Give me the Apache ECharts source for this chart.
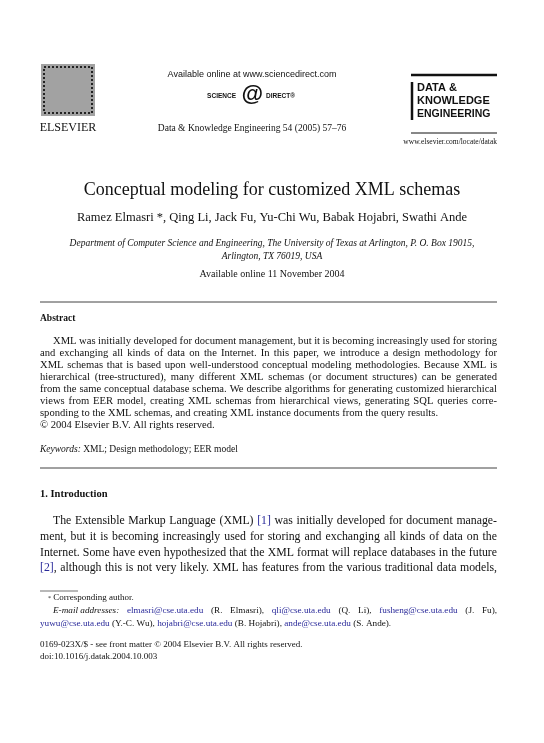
<!DOCTYPE html>
<html><head><meta charset="utf-8">
<script src="https://cdn.jsdelivr.net/npm/echarts@6/dist/echarts.min.js"></script>
<style>html,body{margin:0;padding:0;background:#fff}#c{width:544px;height:743px}</style>
</head><body><div id="c"></div>
<script>
// page text, line by line
const title = 'Conceptual modeling for customized XML schemas'
const authors = 'Ramez Elmasri *, Qing Li, Jack Fu, Yu-Chi Wu, Babak Hojabri, Swathi Ande'
const affiliation = [
  'Department of Computer Science and Engineering, The University of Texas at Arlington, P. O. Box 19015,',
  'Arlington, TX 76019, USA'
]
const abstractLines = [
  'XML was initially developed for document management, but it is becoming increasingly used for storing',
  'and exchanging all kinds of data on the Internet. In this paper, we introduce a design methodology for',
  'XML schemas that is based upon well-understood conceptual modeling methodologies. Because XML is',
  'hierarchical (tree-structured), many different XML schemas (or document structures) can be generated',
  'from the same conceptual database schema. We describe algorithms for generating customized hierarchical',
  'views from EER model, creating XML schemas from hierarchical views, generating SQL queries corre-',
  'sponding to the XML schemas, and creating XML instance documents from the query results.',
  '© 2004 Elsevier B.V. All rights reserved.'
]
const introLines = [
  'The Extensible Markup Language (XML) {b|[1]} was initially developed for document manage-',
  'ment, but it is becoming increasingly used for storing and exchanging all kinds of data on the',
  'Internet. Some have even hypothesized that the XML format will replace databases in the future',
  '{b|[2]}, although this is not very likely. XML has features from the various traditional data models,'
]
const footLines = [
  '{i|E-mail addresses:} {b|elmasri@cse.uta.edu} (R. Elmasri), {b|qli@cse.uta.edu} (Q. Li), {b|fusheng@cse.uta.edu} (J. Fu),',
  '{b|yuwu@cse.uta.edu} (Y.-C. Wu), {b|hojabri@cse.uta.edu} (B. Hojabri), {b|ande@cse.uta.edu} (S. Ande).'
]
const bottomLines = [
  '0169-023X/$ - see front matter © 2004 Elsevier B.V. All rights reserved.',
  'doi:10.1016/j.datak.2004.10.003'
]

const serif = '"Liberation Serif", "DejaVu Serif", serif'
const sans = '"Liberation Sans", Arial, sans-serif'
const blue = '#2a2a9a'
function richFor(size) {
  return {
    b: { fill: blue, fontSize: size, fontFamily: serif },
    i: { fontStyle: 'italic', fontSize: size, fontFamily: serif, fill: '#111' },
    s: { fontSize: 6, fontFamily: serif, fill: '#111' }
  }
}

function txt(x, y, text, size, extra) {
  return { type: 'text', x, y, style: Object.assign({ text, fontSize: size, fontFamily: serif, fill: '#111', rich: richFor(size), textVerticalAlign: 'middle' }, extra || {}) }
}
function line(x1, y1, x2, y2, w) {
  return { type: 'line', shape: { x1, y1, x2, y2 }, style: { stroke: '#111', lineWidth: w || 1 } }
}

const ctx = document.createElement('canvas').getContext('2d')
function measure(s, size, italic) {
  ctx.font = (italic ? 'italic ' : '') + size + 'px ' + serif
  return ctx.measureText(s.replace(/\{\w\|([^}]*)\}/g, '$1')).width
}
// justified line: tokens placed between x0 and x1
function justify(els, t, x0, x1, y, size, last) {
  const words = t.match(/\{\w\|[^}]*\}\S*|\S+/g)
  const ws = words.map(w => measure(w, size, /^\{i\|/.test(w)))
  const total = ws.reduce((a, b) => a + b, 0)
  const gap = last ? measure(' ', size) : (x1 - x0 - total) / (words.length - 1)
  let x = x0
  words.forEach((w, k) => { els.push(txt(x, y, w, size)); x += ws[k] + gap })
}

const els = []
// header: tree logo block
els.push({ type: 'rect', shape: { x: 41, y: 64, width: 54, height: 52 }, style: { fill: '#555', opacity: 0.55 } })
els.push({ type: 'rect', shape: { x: 44, y: 67, width: 48, height: 46 }, style: { fill: 'none', stroke: '#222', lineWidth: 2, lineDash: [2, 2] } })
els.push(txt(68, 128, 'ELSEVIER', 12, { textAlign: 'center' }))
els.push(txt(252, 75, 'Available online at www.sciencedirect.com', 9, { textAlign: 'center', fontFamily: sans }))
els.push(txt(236, 96, 'SCIENCE', 6.5, { textAlign: 'right', fontFamily: sans, fontWeight: 'bold' }))
els.push(txt(252, 95, '@', 22, { textAlign: 'center', fontFamily: sans, fontWeight: 'bold', fontStyle: 'italic' }))
els.push(txt(266, 96, 'DIRECT®', 6.5, { fontFamily: sans, fontWeight: 'bold' }))
els.push(txt(252, 128, 'Data & Knowledge Engineering 54 (2005) 57–76', 9.5, { textAlign: 'center' }))
els.push(line(411, 75, 497, 75, 2.5))
els.push(line(412, 82, 412, 120, 2.5))
els.push(txt(417, 88, 'DATA &', 11, { fontFamily: sans, fontWeight: 'bold' }))
els.push(txt(417, 101, 'KNOWLEDGE', 11, { fontFamily: sans, fontWeight: 'bold' }))
els.push(txt(417, 114, 'ENGINEERING', 10.5, { fontFamily: sans, fontWeight: 'bold' }))
els.push(line(411, 133, 497, 133, 1))
els.push(txt(497, 142, 'www.elsevier.com/locate/datak', 7.5, { textAlign: 'right' }))

// title block
els.push(txt(272, 190, title, 18, { textAlign: 'center' }))
els.push(txt(272, 218, authors, 12.5, { textAlign: 'center' }))
affiliation.forEach((t, i) => els.push(txt(272, 243 + i * 13, t, 9.5, { textAlign: 'center', fontStyle: 'italic' })))
els.push(txt(272, 274, 'Available online 11 November 2004', 10, { textAlign: 'center' }))
els.push(line(40, 302, 497, 302, 0.8))

// abstract
els.push(txt(40, 319, 'Abstract', 9.5, { fontWeight: 'bold' }))
abstractLines.forEach((t, i) => {
  const last = i >= 6
  justify(els, t, i === 0 ? 53 : 40, 497, 341 + i * 12, 10.6, last)
})
els.push(txt(40, 449, '{i|Keywords:} XML; Design methodology; EER model', 9.5))
els.push(line(40, 468, 497, 468, 0.8))

// introduction
els.push(txt(40, 494, '1. Introduction', 10.5, { fontWeight: 'bold' }))
introLines.forEach((t, i) => justify(els, t, i === 0 ? 53 : 40, 497, 521 + i * 15.7, 11.8, false))

// footnotes
els.push(line(40, 591, 78, 591, 0.6))
els.push(txt(48, 598, '{s|*} Corresponding author.', 9))
footLines.forEach((t, i) => justify(els, t, i === 0 ? 53 : 40, 497, 611 + i * 13, 9.2, i === 1))
bottomLines.forEach((t, i) => els.push(txt(40, 645 + i * 12, t, 9)))

const chart = echarts.init(document.getElementById('c'))
chart.setOption({ backgroundColor: '#fff', graphic: { elements: els } })
</script></body></html>
